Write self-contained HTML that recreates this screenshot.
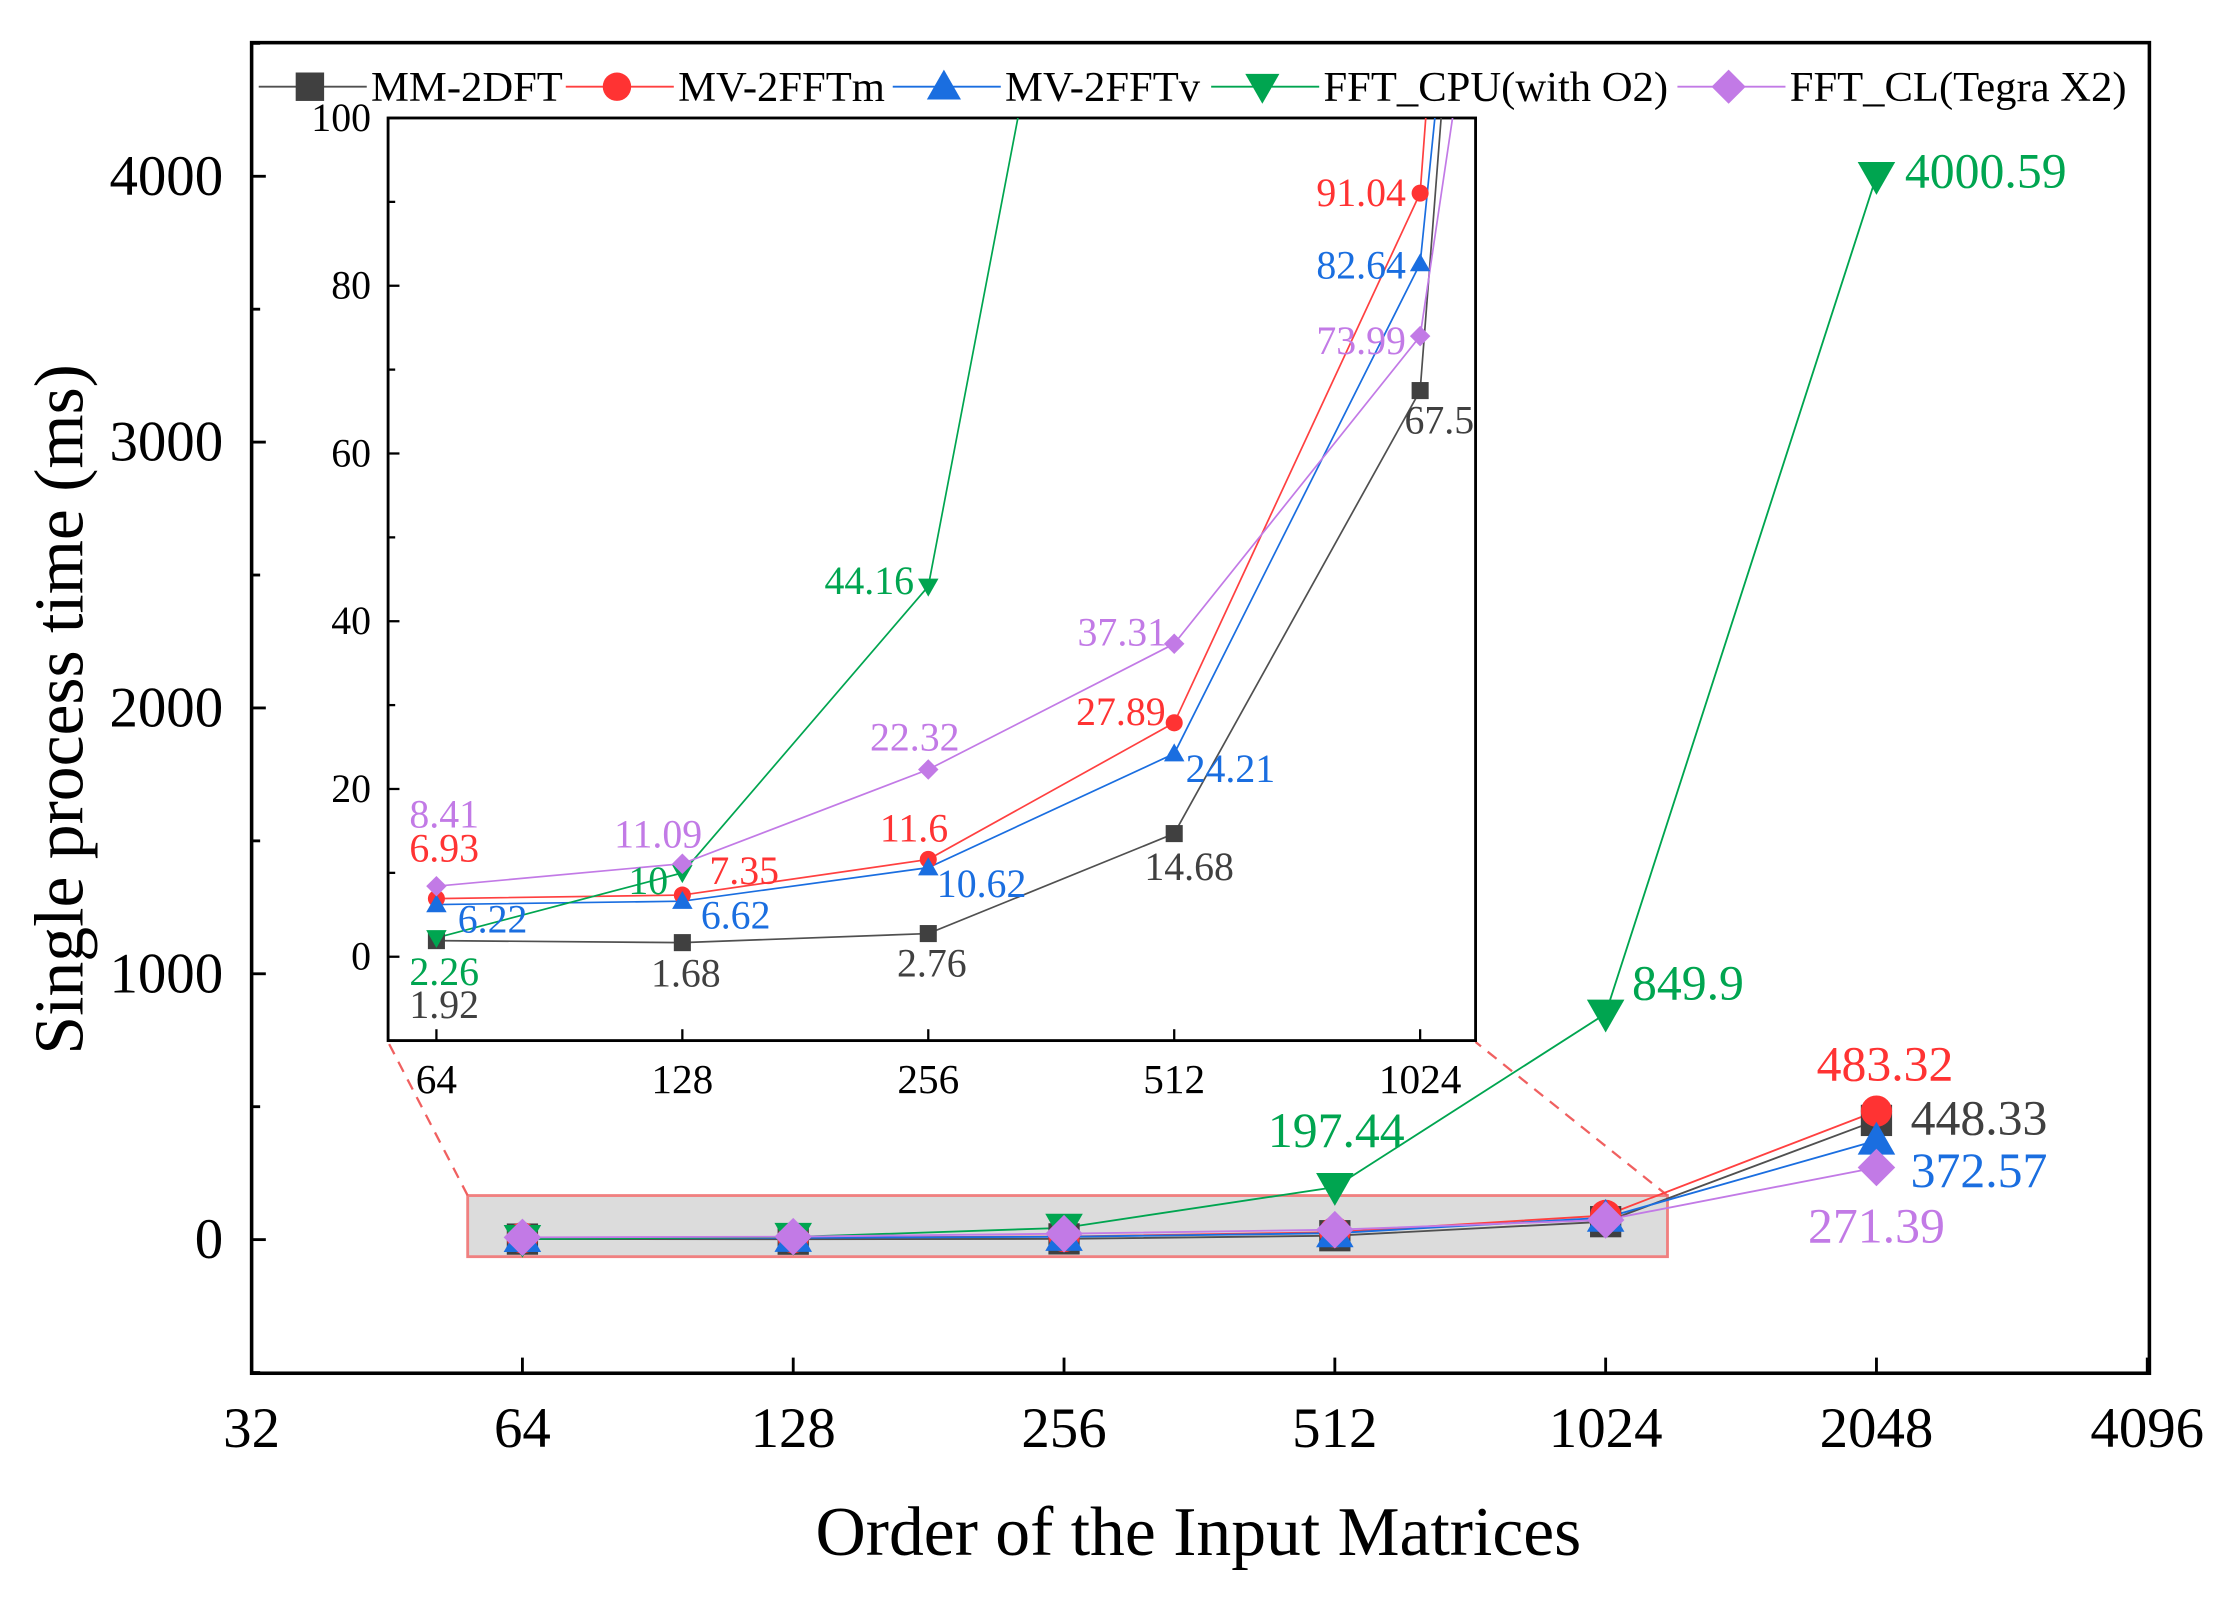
<!DOCTYPE html>
<html><head><meta charset="utf-8">
<style>html,body{margin:0;padding:0;background:#fff}svg{display:block}text{font-family:"Liberation Serif",serif}</style>
</head><body>
<svg id="s" width="2229" height="1597" viewBox="0 0 1568 1123.4" preserveAspectRatio="none" xmlns="http://www.w3.org/2000/svg">
<defs>
<clipPath id="ci"><rect x="273" y="83" width="765" height="649"/></clipPath>
<clipPath id="cm"><rect x="177" y="30" width="1335" height="936"/></clipPath>
</defs>
<rect width="1568" height="1124" fill="#fff"/>
<g id="g"></g>
</svg>
<script>
const g=document.getElementById('g');let h='';
const C={k:'#404040',r:'#ff3333',b:'#1a6ee0',gr:'#00a550',p:'#c27ae6'};
const LK={k:'#505050',r:'#ff4040',b:'#1a6ee0',gr:'#00a550',p:'#c27ae6'};
const lx=v=>Math.log2(v);
function mx(v){return 177+(lx(v)-5)*190.5}
function my(v){return 872-v*0.187}
function ix(v){return 307+(lx(v)-6)*173}
function iy(v){return 673-v*5.9}
function mk(t,x,y,s,c){
 if(t=='sq')return `<rect x="${x-s/2}" y="${y-s/2}" width="${s}" height="${s}" fill="${c}"/>`;
 if(t=='ci')return `<circle cx="${x}" cy="${y}" r="${s/2}" fill="${c}"/>`;
 if(t=='up')return `<polygon points="${x},${y-s*0.6} ${x-s*0.6},${y+s*0.45} ${x+s*0.6},${y+s*0.45}" fill="${c}"/>`;
 if(t=='dn')return `<polygon points="${x},${y+s*0.6} ${x-s*0.6},${y-s*0.45} ${x+s*0.6},${y-s*0.45}" fill="${c}"/>`;
 if(t=='di')return `<polygon points="${x},${y-s*0.6} ${x+s*0.6},${y} ${x},${y+s*0.6} ${x-s*0.6},${y}" fill="${c}"/>`;
}
const X=[64,128,256,512,1024,2048];
const S=[
 ['k','sq',[1.92,1.68,2.76,14.68,67.5,448.33]],
 ['r','ci',[6.93,7.35,11.6,27.89,91.04,483.32]],
 ['b','up',[6.22,6.62,10.62,24.21,82.64,372.57]],
 ['gr','dn',[2.26,10,44.16,197.44,849.9,4000.59]],
 ['p','di',[8.41,11.09,22.32,37.31,73.99,271.39]]];
h+=`<rect x="177" y="30" width="1335" height="936" fill="none" stroke="#000" stroke-width="2.5"/>`;
for(let v=-500;v<=4500;v+=500){const y=my(v);if(y<30||y>966)continue;const M=v%1000==0;
 h+=`<line x1="177" y1="${y}" x2="${177+(M?10:6)}" y2="${y}" stroke="#000" stroke-width="2"/>`;
 if(M)h+=`<text x="157" y="${y+13}" font-size="40" text-anchor="end">${v}</text>`;}
[32,64,128,256,512,1024,2048,4096].forEach(v=>{const x=mx(v);
 h+=`<line x1="${x}" y1="966" x2="${x}" y2="955" stroke="#000" stroke-width="2"/>`;
 h+=`<text x="${x}" y="1018" font-size="40" text-anchor="middle">${v}</text>`;});
h+=`<text x="843" y="1094" font-size="49" text-anchor="middle">Order of the Input Matrices</text>`;
h+=`<text transform="translate(58,499) rotate(-90)" font-size="49" text-anchor="middle">Single process time (ms)</text>`;
h+=`<rect x="329" y="841" width="844" height="43" fill="#dcdcdc" stroke="#f08080" stroke-width="2"/>`;
h+=`<line x1="329" y1="841" x2="273" y2="733" stroke="#f06060" stroke-width="1.6" stroke-dasharray="8,6"/>`;
h+=`<line x1="1173" y1="841" x2="1038" y2="733" stroke="#f06060" stroke-width="1.6" stroke-dasharray="8,6"/>`;
h+='<g clip-path="url(#cm)">';
S.forEach(([c,t,d])=>{h+=`<polyline fill="none" stroke="${LK[c]}" stroke-width="1.3" points="${d.map((v,i)=>mx(X[i])+','+my(v)).join(' ')}"/>`;});
S.forEach(([c,t,d])=>{d.forEach((v,i)=>h+=mk(t,mx(X[i]),my(v),22,C[c]));});
h+='</g>';
const ML=[[1340,132,'4000.59','gr','start'],[1148,703,'849.9','gr','start'],[940,807,'197.44','gr','middle'],
[1326,760,'483.32','r','middle'],[1344,798,'448.33','k','start'],[1344,835,'372.57','b','start'],[1320,874,'271.39','p','middle']];
ML.forEach(([x,y,s,c,a])=>h+=`<text x="${x}" y="${y}" font-size="35" fill="${C[c]}" text-anchor="${a}">${s}</text>`);
h+=`<rect x="273" y="83" width="765" height="649" fill="#fff" stroke="#000" stroke-width="2"/>`;
for(let v=-10;v<=100;v+=10){const y=iy(v);if(y<83||y>732)continue;const M=v%20==0;
 h+=`<line x1="273" y1="${y}" x2="${273+(M?8:5)}" y2="${y}" stroke="#000" stroke-width="1.6"/>`;
 if(M)h+=`<text x="261" y="${y+9}" font-size="28" text-anchor="end">${v}</text>`;}
[64,128,256,512,1024].forEach(v=>{const x=ix(v);
 h+=`<line x1="${x}" y1="732" x2="${x}" y2="724" stroke="#000" stroke-width="1.6"/>`;
 h+=`<text x="${x}" y="769" font-size="29" text-anchor="middle">${v}</text>`;});
h+='<g clip-path="url(#ci)">';
S.forEach(([c,t,d])=>{h+=`<polyline fill="none" stroke="${LK[c]}" stroke-width="1.2" points="${d.map((v,i)=>ix(X[i])+','+iy(v)).join(' ')}"/>`;});
S.forEach(([c,t,d])=>{d.forEach((v,i)=>h+=mk(t,ix(X[i]),iy(v),12,C[c]));});
h+='</g>';
const IL=[[288,582,'8.41','p'],[288,606,'6.93','r'],[322,656,'6.22','b'],[288,693,'2.26','gr'],[288,716,'1.92','k'],
[432,596,'11.09','p'],[442,629,'10','gr'],[499,622,'7.35','r'],[493,653,'6.62','b'],[458,694,'1.68','k'],
[580,418,'44.16','gr'],[612,528,'22.32','p'],[619,592,'11.6','r'],[659,631,'10.62','b'],[631,687,'2.76','k'],
[758,454,'37.31','p'],[757,510,'27.89','r'],[834,550,'24.21','b'],[805,619,'14.68','k'],
[926,145,'91.04','r'],[926,196,'82.64','b'],[926,249,'73.99','p'],[988,305,'67.5','k']];
IL.forEach(([x,y,s,c])=>h+=`<text x="${x}" y="${y}" font-size="28" fill="${C[c]}">${s}</text>`);
const LG=[[182,'k','sq','MM-2DFT'],[398,'r','ci','MV-2FFTm'],[628,'b','up','MV-2FFTv'],[852,'gr','dn','FFT_CPU(with O2)'],[1180,'p','di','FFT_CL(Tegra X2)']];
LG.forEach(([x,c,t,s])=>{h+=`<line x1="${x}" y1="61" x2="${x+76}" y2="61" stroke="${LK[c]}" stroke-width="1.3"/>`;
 h+=mk(t,x+36,61,20,C[c]);h+=`<text x="${x+79}" y="71" font-size="30">${s}</text>`;});
g.innerHTML=h;
</script>
</body></html>
